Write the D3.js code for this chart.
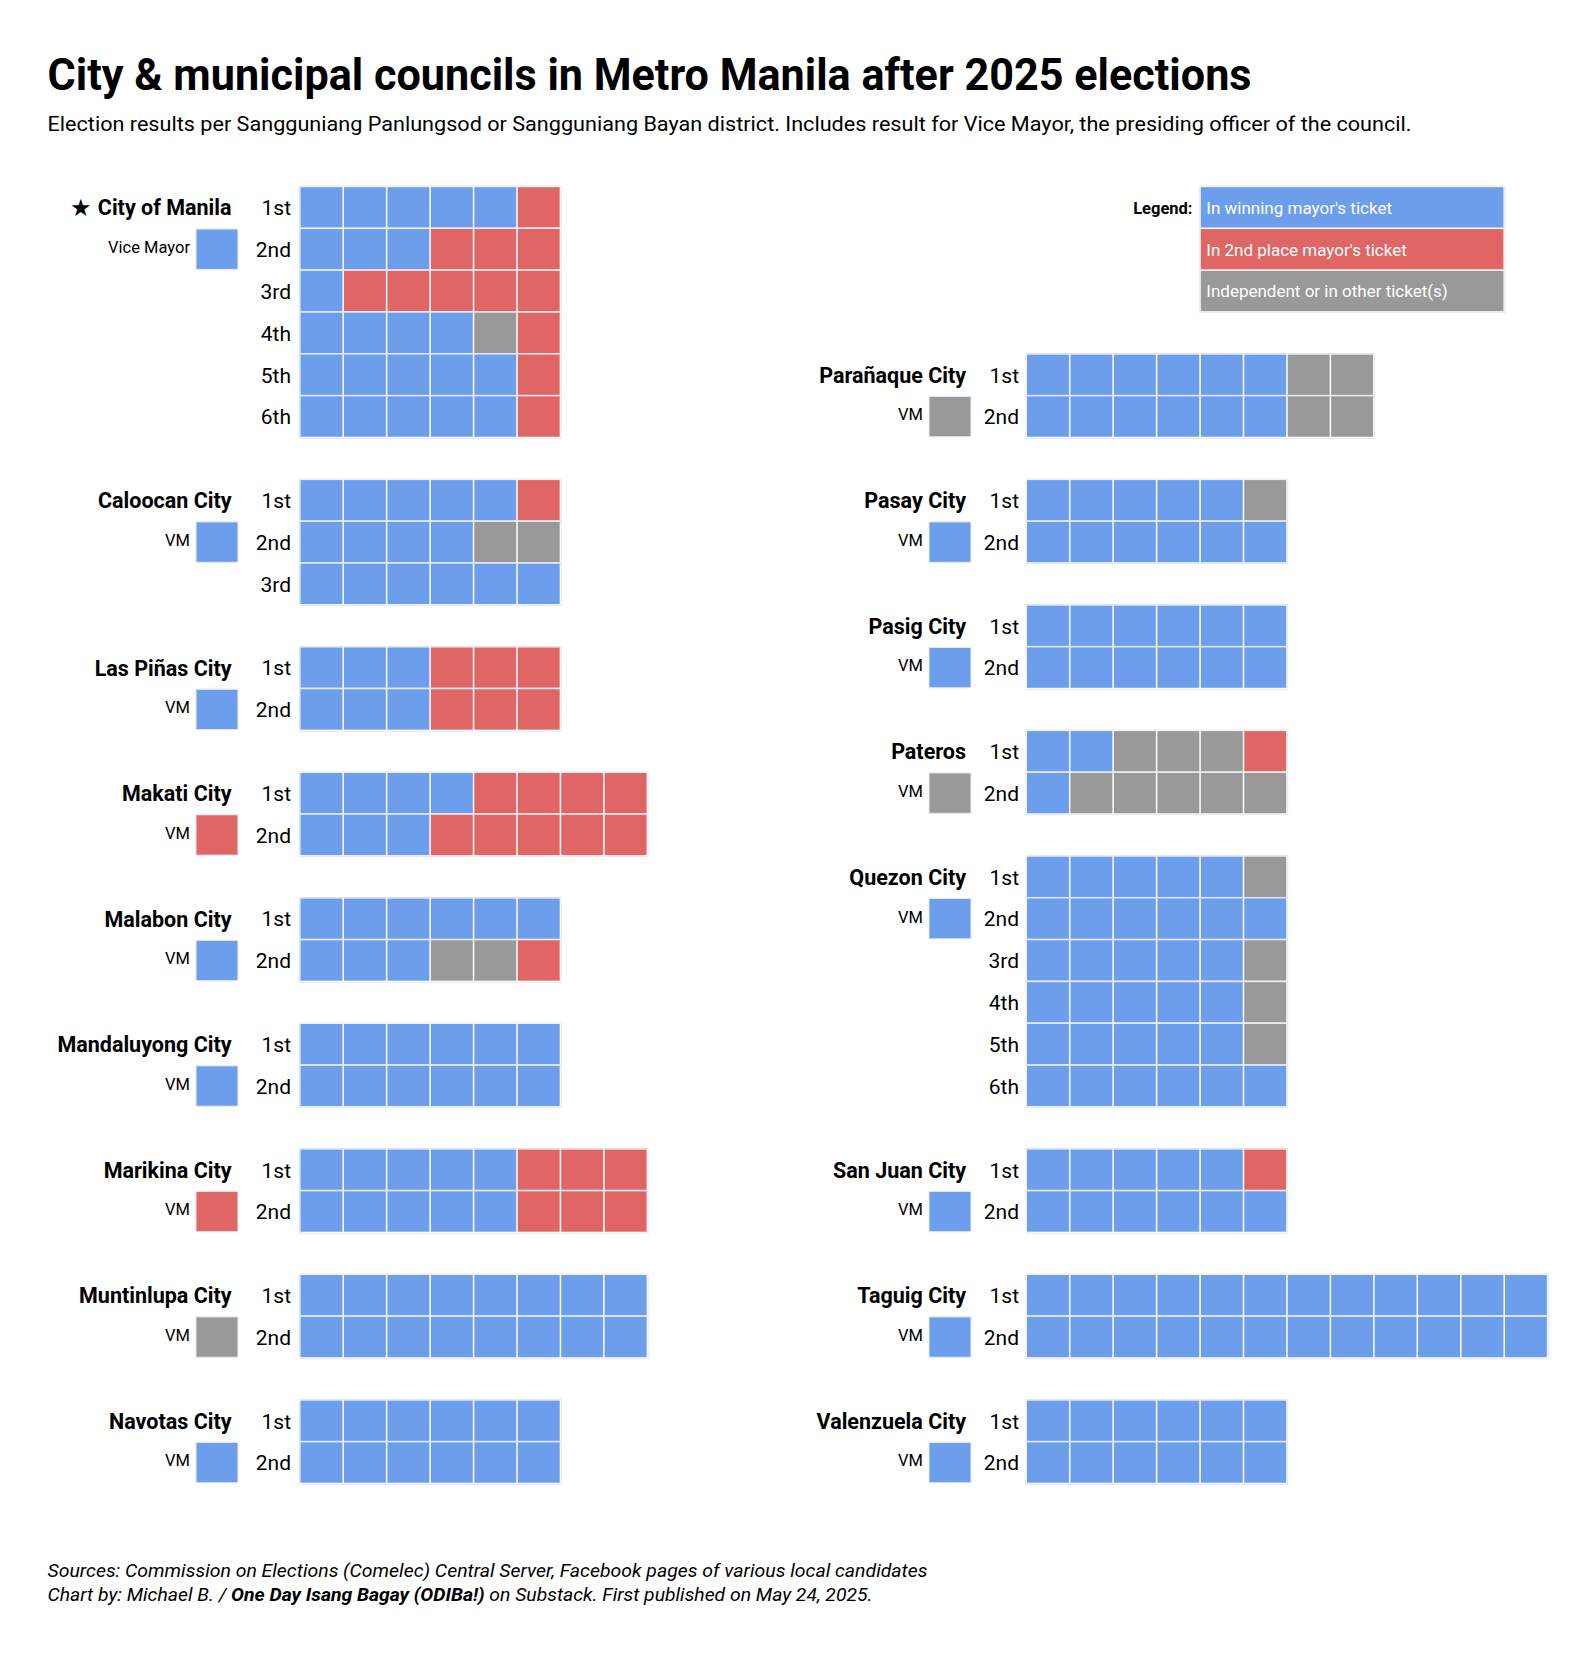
<!DOCTYPE html>
<html>
<head>
<meta charset="utf-8">
<script src="https://cdn.jsdelivr.net/npm/d3@7"></script>
<style>
  body { margin: 0; background: #fff; }
  svg text { font-family: Roboto, "Noto Sans", sans-serif; fill: #000; }
</style>
</head>
<body>
<svg id="chart"></svg>
<script>
// W = in winning mayor's ticket, S = in 2nd place mayor's ticket, O = independent / other
var leftCities = ["City of Manila", "Caloocan City", "Las Piñas City", "Makati City", "Malabon City",
  "Mandaluyong City", "Marikina City", "Muntinlupa City", "Navotas City"];
var leftVM = ["W", "W", "W", "S", "W", "W", "S", "O", "W"];
var leftDistricts = [
  ["WWWWWS", "WWWSSS", "WSSSSS", "WWWWOS", "WWWWWS", "WWWWWS"],
  ["WWWWWS", "WWWWOO", "WWWWWW"],
  ["WWWSSS", "WWWSSS"],
  ["WWWWSSSS", "WWWSSSSS"],
  ["WWWWWW", "WWWOOS"],
  ["WWWWWW", "WWWWWW"],
  ["WWWWWSSS", "WWWWWSSS"],
  ["WWWWWWWW", "WWWWWWWW"],
  ["WWWWWW", "WWWWWW"]
];

var rightCities = ["Parañaque City", "Pasay City", "Pasig City", "Pateros", "Quezon City",
  "San Juan City", "Taguig City", "Valenzuela City"];
var rightVM = ["O", "W", "W", "O", "W", "W", "W", "W"];
var rightDistricts = [
  ["WWWWWWOO", "WWWWWWOO"],
  ["WWWWWO", "WWWWWW"],
  ["WWWWWW", "WWWWWW"],
  ["WWOOOS", "WOOOOO"],
  ["WWWWWO", "WWWWWW", "WWWWWO", "WWWWWO", "WWWWWO", "WWWWWW"],
  ["WWWWWS", "WWWWWW"],
  ["WWWWWWWWWWWW", "WWWWWWWWWWWW"],
  ["WWWWWW", "WWWWWW"]
];

var districtLabels = ["1st", "2nd", "3rd", "4th", "5th", "6th"];
var capitalCity = "City of Manila";
var legendCodes = ["W", "S", "O"];
var legendLabels = ["In winning mayor's ticket", "In 2nd place mayor's ticket", "Independent or in other ticket(s)"];

var W = 1588, H = 1656;
var svg = d3.select("#chart").attr("width", W).attr("height", H);

var color = d3.scaleOrdinal().domain(["W", "S", "O"]).range(["#6d9eeb", "#e06666", "#999999"]);

var pitchX = 43.45, pitchY = 41.84;
var y = d3.scaleLinear().domain([0, 1]).range([186.7, 186.7 + pitchY]);

// title / subtitle
svg.append("text").attr("x", 47.5).attr("y", 90)
  .attr("font-size", 44).attr("font-weight", 700)
  .attr("textLength", 1204).attr("lengthAdjust", "spacingAndGlyphs")
  .text("City & municipal councils in Metro Manila after 2025 elections");
svg.append("text").attr("x", 47.5).attr("y", 131)
  .attr("font-size", 20.5)
  .attr("textLength", 1364).attr("lengthAdjust", "spacingAndGlyphs")
  .text("Election results per Sangguniang Panlungsod or Sangguniang Bayan district. Includes result for Vice Mayor, the presiding officer of the council.");

function drawColumn(cities, vms, districts, startSlot, opt) {
  var x = d3.scaleLinear().domain([0, 1]).range([opt.x0, opt.x0 + pitchX]);
  var g = svg.append("g");
  var slot = startSlot;
  cities.forEach(function(city, ci) {
    var rows = districts[ci];
    var top = slot;
    // city label
    g.append("text")
      .attr("x", opt.x0 + opt.cityDx).attr("y", y(top + 0.5)).attr("dy", "0.36em")
      .attr("text-anchor", "end").attr("font-size", 21.5).attr("font-weight", 700)
      .text(city);
    if (city === capitalCity) {
      g.append("text").attr("x", 70).attr("y", y(top + 0.5)).attr("dy", "0.36em")
        .attr("font-size", 24).text("★");
    }
    // vice mayor box
    g.append("rect")
      .attr("x", opt.x0 + opt.vmDx).attr("y", y(top + 1) + 0.5)
      .attr("width", pitchX - 1.5).attr("height", pitchY - 1.5)
      .attr("fill", color(vms[ci])).attr("stroke", "#e3e9f3").attr("stroke-width", 1);
    g.append("text")
      .attr("x", opt.x0 + opt.vmDx - 6).attr("y", y(top + 1.5)).attr("dy", "0.22em")
      .attr("text-anchor", "end").attr("font-size", 16.5)
      .text(city === capitalCity ? "Vice Mayor" : "VM");
    rows.forEach(function(row, ri) {
      var cells = row.split("");
      g.append("text")
        .attr("x", opt.x0 + opt.rowDx).attr("y", y(top + ri + 0.5)).attr("dy", "0.36em")
        .attr("text-anchor", "end").attr("font-size", 21)
        .text(districtLabels[ri]);
      g.append("rect")
        .attr("x", x(0) - 0.5).attr("y", y(top + ri) - 0.5)
        .attr("width", x(cells.length) - x(0) + 1).attr("height", pitchY + 1)
        .attr("fill", "none").attr("stroke", "#e1e7f2").attr("stroke-width", 1);
      g.selectAll(null).data(cells).enter().append("rect")
        .attr("x", function(d, i) { return x(i) + 0.5; })
        .attr("y", y(top + ri) + 0.5)
        .attr("width", pitchX - 1.5)
        .attr("height", pitchY - 1.5)
        .attr("fill", function(d) { return color(d); });
    });
    slot += rows.length + 1;
  });
}

drawColumn(leftCities, leftVM, leftDistricts, 0, { x0: 300, cityDx: -68.5, rowDx: -9, vmDx: -104 });
drawColumn(rightCities, rightVM, rightDistricts, 4, { x0: 1026.5, cityDx: -60.5, rowDx: -7.5, vmDx: -97.5 });

// legend
var lx = d3.scaleLinear().domain([0, 1]).range([1026.5, 1026.5 + pitchX]);
var leg = svg.append("g");
leg.append("text").attr("x", 1192.5).attr("y", y(0.5)).attr("dy", "0.36em")
  .attr("text-anchor", "end").attr("font-size", 16.5).attr("font-weight", 700).text("Legend:");
leg.append("rect").attr("x", lx(4) - 0.5).attr("y", y(0) - 0.5)
  .attr("width", lx(11) - lx(4) + 1).attr("height", y(3) - y(0) + 1)
  .attr("fill", "none").attr("stroke", "#e1e7f2");
leg.selectAll(".lg").data(legendCodes).enter().append("rect")
  .attr("x", lx(4) + 0.5).attr("y", function(d, i) { return y(i) + 0.5; })
  .attr("width", lx(11) - lx(4) - 1.5).attr("height", pitchY - 1.5)
  .attr("fill", function(d) { return color(d); });
leg.selectAll(".lt").data(legendLabels).enter().append("text")
  .attr("x", lx(4) + 6).attr("y", function(d, i) { return y(i + 0.5); }).attr("dy", "0.36em")
  .attr("font-size", 17).style("fill", "#fff").text(function(d) { return d; });

// footer
svg.append("text").attr("x", 47.5).attr("y", 1577).attr("font-size", 18).attr("font-style", "italic")
  .attr("textLength", 880).attr("lengthAdjust", "spacingAndGlyphs")
  .text("Sources: Commission on Elections (Comelec) Central Server, Facebook pages of various local candidates");
var f2 = svg.append("text").attr("x", 47.5).attr("y", 1601).attr("font-size", 18).attr("font-style", "italic")
  .attr("textLength", 825).attr("lengthAdjust", "spacingAndGlyphs");
f2.append("tspan").text("Chart by: Michael B. / ");
f2.append("tspan").attr("font-weight", 700).text("One Day Isang Bagay (ODIBa!)");
f2.append("tspan").text(" on Substack. First published on May 24, 2025.");
</script>
</body>
</html>
